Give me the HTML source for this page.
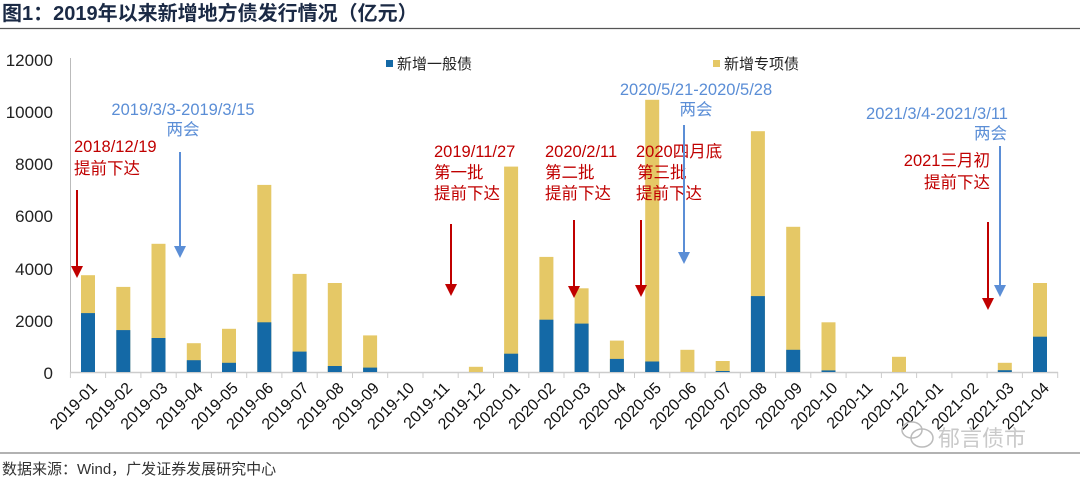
<!DOCTYPE html>
<html><head><meta charset="utf-8"><style>
html,body{margin:0;padding:0;background:#fff;}
svg{display:block;font-family:"Liberation Sans","Noto Sans CJK SC",sans-serif;}
</style></head><body>
<svg width="1080" height="484" viewBox="0 0 1080 484" xmlns="http://www.w3.org/2000/svg">
<text x="2" y="20" font-size="20" font-weight="bold" fill="#1b2a45">图1：2019年以来新增地方债发行情况（亿元）</text>
<line x1="0" y1="28.5" x2="1080" y2="28.5" stroke="#555" stroke-width="1.2"/>
<line x1="0" y1="453" x2="1080" y2="453" stroke="#999" stroke-width="1.5"/>
<text x="2" y="474" font-size="15" fill="#333">数据来源：Wind，广发证券发展研究中心</text>

<g font-size="17" fill="#222" text-anchor="end">
<text x="53" y="66">12000</text><text x="53" y="118">10000</text><text x="53" y="170">8000</text>
<text x="53" y="222">6000</text><text x="53" y="275">4000</text><text x="53" y="327">2000</text><text x="53" y="379">0</text>
</g>
<line x1="70.5" y1="58" x2="70.5" y2="372" stroke="#bbb"/>
<line x1="70" y1="372.5" x2="1058" y2="372.5" stroke="#ccc" stroke-width="1.5"/>

<g fill="#E5C866">
<rect x="81" y="275.2" width="14" height="96.8"/>
<rect x="116.3" y="286.9" width="14" height="85.1"/>
<rect x="151.5" y="243.8" width="14" height="128.2"/>
<rect x="186.8" y="343.2" width="14" height="28.8"/>
<rect x="222" y="328.8" width="14" height="43.2"/>
<rect x="257.3" y="184.9" width="14" height="187.1"/>
<rect x="292.6" y="273.9" width="14" height="98.1"/>
<rect x="327.8" y="283" width="14" height="89"/>
<rect x="363.1" y="335.4" width="14" height="36.6"/>
<rect x="468.9" y="366.8" width="14" height="5.2"/>
<rect x="504.1" y="166.6" width="14" height="205.4"/>
<rect x="539.4" y="256.9" width="14" height="115.1"/>
<rect x="574.6" y="288.3" width="14" height="83.7"/>
<rect x="609.9" y="340.6" width="14" height="31.4"/>
<rect x="645.2" y="99.8" width="14" height="272.2"/>
<rect x="680.4" y="349.8" width="14" height="22.2"/>
<rect x="715.7" y="361" width="14" height="11"/>
<rect x="750.9" y="131.2" width="14" height="240.8"/>
<rect x="786.2" y="226.8" width="14" height="145.2"/>
<rect x="821.5" y="322.3" width="14" height="49.7"/>
<rect x="892" y="356.8" width="14" height="15.2"/>
<rect x="997.8" y="362.8" width="14" height="9.2"/>
<rect x="1033" y="283" width="14" height="89"/>
</g>
<g fill="#1469A6">
<rect x="81" y="313.1" width="14" height="58.9"/>
<rect x="116.3" y="330.1" width="14" height="41.9"/>
<rect x="151.5" y="338" width="14" height="34"/>
<rect x="186.8" y="360.2" width="14" height="11.8"/>
<rect x="222" y="362.8" width="14" height="9.2"/>
<rect x="257.3" y="322.3" width="14" height="49.7"/>
<rect x="292.6" y="351.6" width="14" height="20.4"/>
<rect x="327.8" y="366" width="14" height="6"/>
<rect x="363.1" y="367.6" width="14" height="4.4"/>
<rect x="504.1" y="353.7" width="14" height="18.3"/>
<rect x="539.4" y="319.7" width="14" height="52.3"/>
<rect x="574.6" y="323.6" width="14" height="48.4"/>
<rect x="609.9" y="358.9" width="14" height="13.1"/>
<rect x="645.2" y="361.5" width="14" height="10.5"/>
<rect x="715.7" y="371" width="14" height="1"/>
<rect x="750.9" y="296.1" width="14" height="75.9"/>
<rect x="786.2" y="349.8" width="14" height="22.2"/>
<rect x="821.5" y="370.4" width="14" height="1.6"/>
<rect x="997.8" y="370.2" width="14" height="1.8"/>
<rect x="1033" y="336.7" width="14" height="35.3"/>
</g>

<g stroke="#ccc">
<path d="M70.4 372v6M105.6 372v6M140.9 372v6M176.2 372v6M211.4 372v6M246.7 372v6M281.9 372v6M317.2 372v6M352.5 372v6M387.7 372v6M423 372v6M458.2 372v6M493.5 372v6M528.8 372v6M564 372v6M599.3 372v6M634.5 372v6M669.8 372v6M705.1 372v6M740.3 372v6M775.6 372v6M810.8 372v6M846.1 372v6M881.4 372v6M916.6 372v6M951.9 372v6M987.1 372v6M1022.4 372v6M1057.7 372v6"/>
</g>
<g font-size="16" fill="#111" text-anchor="end">
<text transform="translate(98,389) rotate(-45)">2019-01</text>
<text transform="translate(133.3,389) rotate(-45)">2019-02</text>
<text transform="translate(168.5,389) rotate(-45)">2019-03</text>
<text transform="translate(203.8,389) rotate(-45)">2019-04</text>
<text transform="translate(239,389) rotate(-45)">2019-05</text>
<text transform="translate(274.3,389) rotate(-45)">2019-06</text>
<text transform="translate(309.6,389) rotate(-45)">2019-07</text>
<text transform="translate(344.8,389) rotate(-45)">2019-08</text>
<text transform="translate(380.1,389) rotate(-45)">2019-09</text>
<text transform="translate(415.3,389) rotate(-45)">2019-10</text>
<text transform="translate(450.6,389) rotate(-45)">2019-11</text>
<text transform="translate(485.9,389) rotate(-45)">2019-12</text>
<text transform="translate(521.1,389) rotate(-45)">2020-01</text>
<text transform="translate(556.4,389) rotate(-45)">2020-02</text>
<text transform="translate(591.6,389) rotate(-45)">2020-03</text>
<text transform="translate(626.9,389) rotate(-45)">2020-04</text>
<text transform="translate(662.2,389) rotate(-45)">2020-05</text>
<text transform="translate(697.4,389) rotate(-45)">2020-06</text>
<text transform="translate(732.7,389) rotate(-45)">2020-07</text>
<text transform="translate(767.9,389) rotate(-45)">2020-08</text>
<text transform="translate(803.2,389) rotate(-45)">2020-09</text>
<text transform="translate(838.5,389) rotate(-45)">2020-10</text>
<text transform="translate(873.7,389) rotate(-45)">2020-11</text>
<text transform="translate(909,389) rotate(-45)">2020-12</text>
<text transform="translate(944.2,389) rotate(-45)">2021-01</text>
<text transform="translate(979.5,389) rotate(-45)">2021-02</text>
<text transform="translate(1014.8,389) rotate(-45)">2021-03</text>
<text transform="translate(1050,389) rotate(-45)">2021-04</text>
</g>

<text x="938" y="446" font-size="22" fill="#bbb" fill-opacity="0.8">郁言债市</text>
<g fill="none" stroke="#bbb" stroke-width="1.5"><ellipse cx="912" cy="430" rx="10" ry="8"/><ellipse cx="922" cy="438" rx="11" ry="9"/></g>

<rect x="386" y="60" width="7" height="7" fill="#1469A6"/>
<text x="397" y="69" font-size="15" fill="#222">新增一般债</text>
<rect x="713" y="60" width="7" height="7" fill="#E5C866"/>
<text x="724" y="69" font-size="15" fill="#222">新增专项债</text>

<g font-size="16.5">
<text x="183" y="115" text-anchor="middle" fill="#5B8ED6">2019/3/3-2019/3/15</text>
<text x="183" y="135" text-anchor="middle" fill="#5B8ED6">两会</text>
<text x="74" y="152" fill="#C00000">2018/12/19</text>
<text x="74" y="174" fill="#C00000">提前下达</text>
<text x="434" y="157" fill="#C00000">2019/11/27</text>
<text x="434" y="178" fill="#C00000">第一批</text>
<text x="434" y="199" fill="#C00000">提前下达</text>
<text x="545" y="157" fill="#C00000">2020/2/11</text>
<text x="545" y="178" fill="#C00000">第二批</text>
<text x="545" y="199" fill="#C00000">提前下达</text>
<text x="636" y="157" fill="#C00000">2020四月底</text>
<text x="637" y="178" fill="#C00000">第三批</text>
<text x="636" y="199" fill="#C00000">提前下达</text>
<text x="696" y="95" text-anchor="middle" fill="#5B8ED6">2020/5/21-2020/5/28</text>
<text x="696" y="115" text-anchor="middle" fill="#5B8ED6">两会</text>
<text x="937" y="119" text-anchor="middle" fill="#5B8ED6">2021/3/4-2021/3/11</text>
<text x="1007" y="139" text-anchor="end" fill="#5B8ED6">两会</text>
<text x="990" y="166" text-anchor="end" fill="#C00000">2021三月初</text>
<text x="990" y="188" text-anchor="end" fill="#C00000">提前下达</text>
</g>
<g stroke-width="2">
<line x1="77" y1="190" x2="77" y2="268" stroke="#C00000"/><polygon points="71,266 83,266 77,278" fill="#C00000"/>
<line x1="180" y1="152" x2="180" y2="248" stroke="#5B8ED6"/><polygon points="174,246 186,246 180,258" fill="#5B8ED6"/>
<line x1="451" y1="224" x2="451" y2="286" stroke="#C00000"/><polygon points="445,284 457,284 451,296" fill="#C00000"/>
<line x1="574" y1="220" x2="574" y2="288" stroke="#C00000"/><polygon points="568,286 580,286 574,298" fill="#C00000"/>
<line x1="641" y1="220" x2="641" y2="287" stroke="#C00000"/><polygon points="635,285 647,285 641,297" fill="#C00000"/>
<line x1="684" y1="125" x2="684" y2="254" stroke="#5B8ED6"/><polygon points="678,252 690,252 684,264" fill="#5B8ED6"/>
<line x1="1000" y1="146" x2="1000" y2="287" stroke="#5B8ED6"/><polygon points="994,285 1006,285 1000,297" fill="#5B8ED6"/>
<line x1="988" y1="222" x2="988" y2="300" stroke="#C00000"/><polygon points="982,298 994,298 988,310" fill="#C00000"/>
</g>
</svg>
</body></html>
